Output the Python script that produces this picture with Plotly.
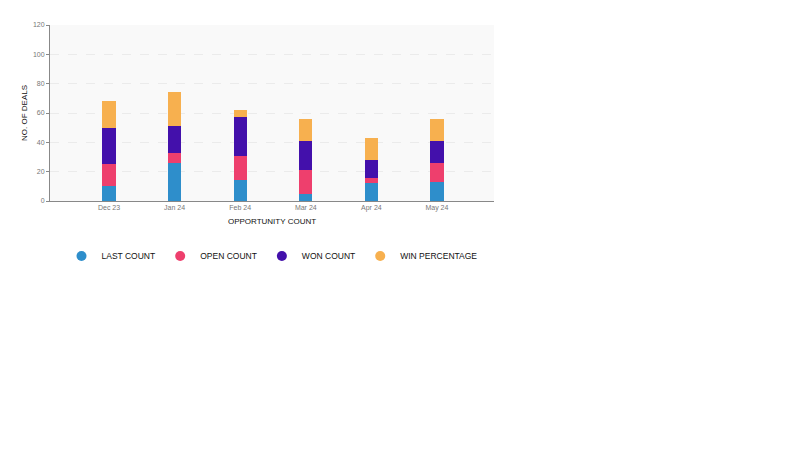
import plotly.graph_objects as go

months = ['Dec 23', 'Jan 24', 'Feb 24', 'Mar 24', 'Apr 24', 'May 24']
last_count = [10, 26, 14, 5, 12, 13]
open_count = [15, 7, 17, 16, 4, 13]
won_count = [25, 18, 26, 20, 12, 15]
win_percentage = [18, 23, 5, 15, 15, 15]

series = [
    ('LAST COUNT', last_count, '#2e8ecb'),
    ('OPEN COUNT', open_count, '#ee3f6d'),
    ('WON COUNT', won_count, '#4310ab'),
    ('WIN PERCENTAGE', win_percentage, '#f7b04f'),
]

fig = go.Figure()
for name, vals, color in series:
    fig.add_trace(go.Bar(x=months, y=vals, name=name, marker_color=color,
                         marker_line_width=0, width=0.2, showlegend=False))
    # circle swatch for the legend
    fig.add_trace(go.Scatter(x=[None], y=[None], mode='markers', name=name,
                             marker=dict(color=color, size=10, symbol='circle')))

fig.update_layout(
    barmode='stack',
    width=800, height=450,
    margin=dict(l=42, r=314, t=17, b=257, autoexpand=False),
    paper_bgcolor='white',
    plot_bgcolor='#f9f9f9',
    font=dict(family='Liberation Sans, Arial', size=8, color='#111'),
    xaxis=dict(type='category', range=[-0.9, 5.87], showgrid=False, automargin=False,
               showline=True, linecolor='#888', ticks='outside', ticklen=0,
               tickfont=dict(size=7, color='#777'),
               title=dict(text='OPPORTUNITY COUNT', font=dict(size=8, color='#111'), standoff=6)),
    yaxis=dict(range=[0, 120], dtick=20, gridcolor='#ebebeb', griddash='dash', automargin=False,
               showline=True, linecolor='#888', ticks='outside', ticklen=3,
               tickcolor='#888', zeroline=False,
               tickfont=dict(size=7, color='#777'),
               title=dict(text='NO. OF DEALS', font=dict(size=8, color='#111'), standoff=4)),
    legend=dict(orientation='h', traceorder='normal', x=0.5, xanchor='center',
                y=-0.23, yanchor='top', font=dict(size=8.5, color='#111'),
                itemwidth=30, tracegroupgap=0),
)

fig.write_html('out.html')
